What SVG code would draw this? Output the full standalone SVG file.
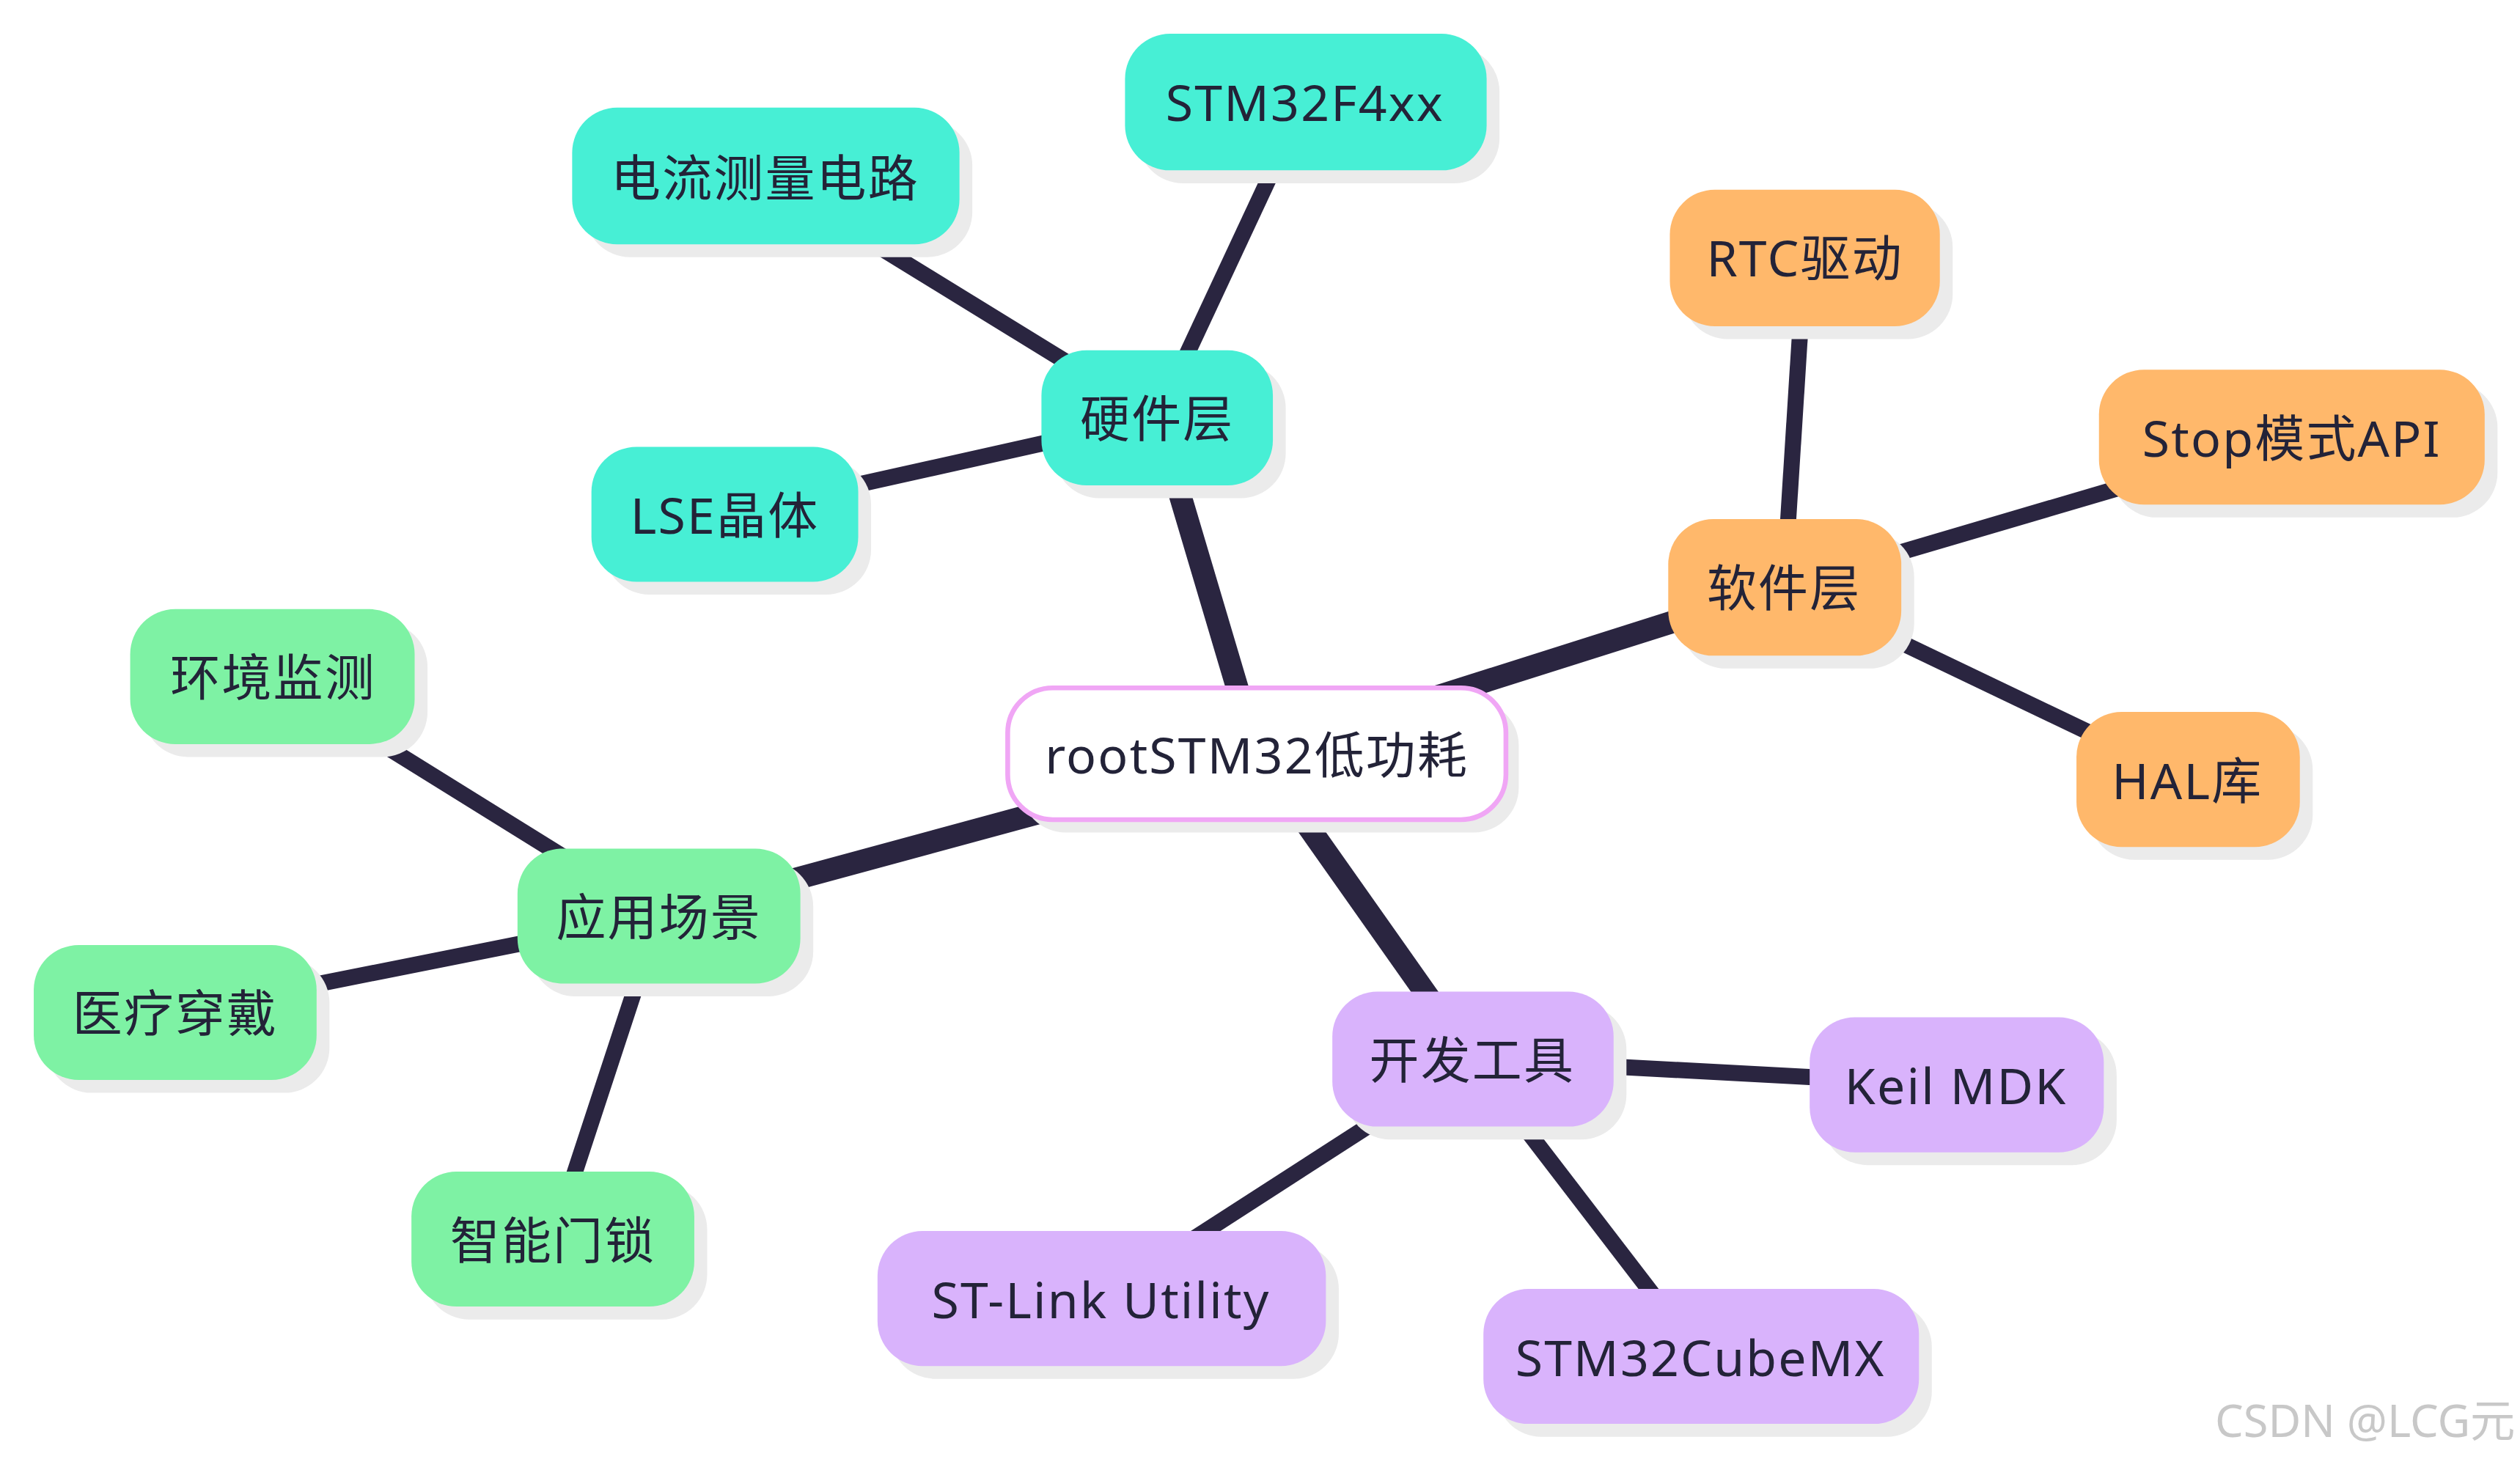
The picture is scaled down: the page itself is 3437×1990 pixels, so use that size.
<svg xmlns="http://www.w3.org/2000/svg" width="3437" height="1990" viewBox="0 0 3437 1990">
<style>
.sh{fill:#ebebeb}
.t{font-family:"Noto Sans","Noto Sans CJK SC",sans-serif;font-size:31px;fill:#232338;text-anchor:middle;dominant-baseline:central;letter-spacing:1px}
.e1{stroke:#2a2540;stroke-width:14;stroke-linecap:butt}
.e2{stroke:#2a2540;stroke-width:10;stroke-linecap:butt}
.hw{fill:#47efd5}.sw{fill:#ffb86b}.ap{fill:#7ef2a4}.dv{fill:#d9b3fc}
</style>
<rect width="3437" height="1990" fill="#fff"/>
<g transform="scale(2.192)">
<g id="connectors">
<line class="e1" x1="782" y1="469" x2="720" y2="260"/>
<line class="e1" x1="782" y1="469" x2="1110" y2="365"/>
<line class="e1" x1="782" y1="469" x2="410" y2="570"/>
<line class="e1" x1="782" y1="469" x2="916" y2="659"/>
<line class="e2" x1="720" y1="260" x2="812" y2="63"/>
<line class="e2" x1="720" y1="260" x2="476" y2="110"/>
<line class="e2" x1="720" y1="260" x2="451" y2="320"/>
<line class="e2" x1="1110" y1="365" x2="1123" y2="160"/>
<line class="e2" x1="1110" y1="365" x2="1426" y2="272"/>
<line class="e2" x1="1110" y1="365" x2="1361" y2="485"/>
<line class="e2" x1="410" y1="570" x2="170" y2="421"/>
<line class="e2" x1="410" y1="570" x2="109" y2="630"/>
<line class="e2" x1="410" y1="570" x2="344" y2="771"/>
<line class="e2" x1="916" y1="659" x2="1217" y2="675"/>
<line class="e2" x1="916" y1="659" x2="685" y2="808"/>
<line class="e2" x1="916" y1="659" x2="1058" y2="844"/>
</g>
<g id="root"><rect class="sh" x="635" y="436" width="310" height="82" rx="28"/><rect x="627" y="428" width="310" height="82" rx="28" fill="#fff" stroke="#f0a6f5" stroke-width="3"/><text class="t" x="782" y="469">rootSTM32低功耗</text></g>
<g id="hw"><rect class="sh" x="656" y="226" width="144" height="84" rx="28"/><rect class="hw" x="648" y="218" width="144" height="84" rx="28"/><text class="t" x="720" y="260">硬件层</text></g>
<g id="stm32f4"><rect class="sh" x="708" y="29" width="225" height="85" rx="28"/><rect class="hw" x="700" y="21" width="225" height="85" rx="28"/><text class="t" x="812" y="63">STM32F4xx</text></g>
<g id="current"><rect class="sh" x="364" y="75" width="241" height="85" rx="28"/><rect class="hw" x="356" y="67" width="241" height="85" rx="28"/><text class="t" x="476" y="110">电流测量电路</text></g>
<g id="lse"><rect class="sh" x="376" y="286" width="166" height="84" rx="28"/><rect class="hw" x="368" y="278" width="166" height="84" rx="28"/><text class="t" x="451" y="320">LSE晶体</text></g>
<g id="sw"><rect class="sh" x="1046" y="331" width="145" height="85" rx="28"/><rect class="sw" x="1038" y="323" width="145" height="85" rx="28"/><text class="t" x="1110" y="365">软件层</text></g>
<g id="rtc"><rect class="sh" x="1047" y="126" width="168" height="85" rx="28"/><rect class="sw" x="1039" y="118" width="168" height="85" rx="28"/><text class="t" x="1123" y="160">RTC驱动</text></g>
<g id="stop"><rect class="sh" x="1314" y="238" width="240" height="84" rx="28"/><rect class="sw" x="1306" y="230" width="240" height="84" rx="28"/><text class="t" x="1426" y="272">Stop模式API</text></g>
<g id="hal"><rect class="sh" x="1300" y="451" width="139" height="84" rx="28"/><rect class="sw" x="1292" y="443" width="139" height="84" rx="28"/><text class="t" x="1361" y="485">HAL库</text></g>
<g id="app"><rect class="sh" x="330" y="536" width="176" height="84" rx="28"/><rect class="ap" x="322" y="528" width="176" height="84" rx="28"/><text class="t" x="410" y="570">应用场景</text></g>
<g id="env"><rect class="sh" x="89" y="387" width="177" height="84" rx="28"/><rect class="ap" x="81" y="379" width="177" height="84" rx="28"/><text class="t" x="170" y="421">环境监测</text></g>
<g id="med"><rect class="sh" x="29" y="596" width="176" height="84" rx="28"/><rect class="ap" x="21" y="588" width="176" height="84" rx="28"/><text class="t" x="109" y="630">医疗穿戴</text></g>
<g id="lock"><rect class="sh" x="264" y="737" width="176" height="84" rx="28"/><rect class="ap" x="256" y="729" width="176" height="84" rx="28"/><text class="t" x="344" y="771">智能门锁</text></g>
<g id="dev"><rect class="sh" x="837" y="625" width="175" height="84" rx="28"/><rect class="dv" x="829" y="617" width="175" height="84" rx="28"/><text class="t" x="916" y="659">开发工具</text></g>
<g id="keil"><rect class="sh" x="1134" y="641" width="183" height="84" rx="28"/><rect class="dv" x="1126" y="633" width="183" height="84" rx="28"/><text class="t" x="1217" y="675">Keil MDK</text></g>
<g id="stlink"><rect class="sh" x="554" y="774" width="279" height="84" rx="28"/><rect class="dv" x="546" y="766" width="279" height="84" rx="28"/><text class="t" x="685" y="808">ST-Link Utility</text></g>
<g id="cubemx"><rect class="sh" x="931" y="810" width="271" height="84" rx="28"/><rect class="dv" x="923" y="802" width="271" height="84" rx="28"/><text class="t" x="1058" y="844">STM32CubeMX</text></g>
<text x="1565" y="883" font-family="Noto Sans,Noto Sans CJK SC,sans-serif" font-size="28" fill="#c8c8c8" text-anchor="end" dominant-baseline="central">CSDN @LCG元</text>
</g>
</svg>
